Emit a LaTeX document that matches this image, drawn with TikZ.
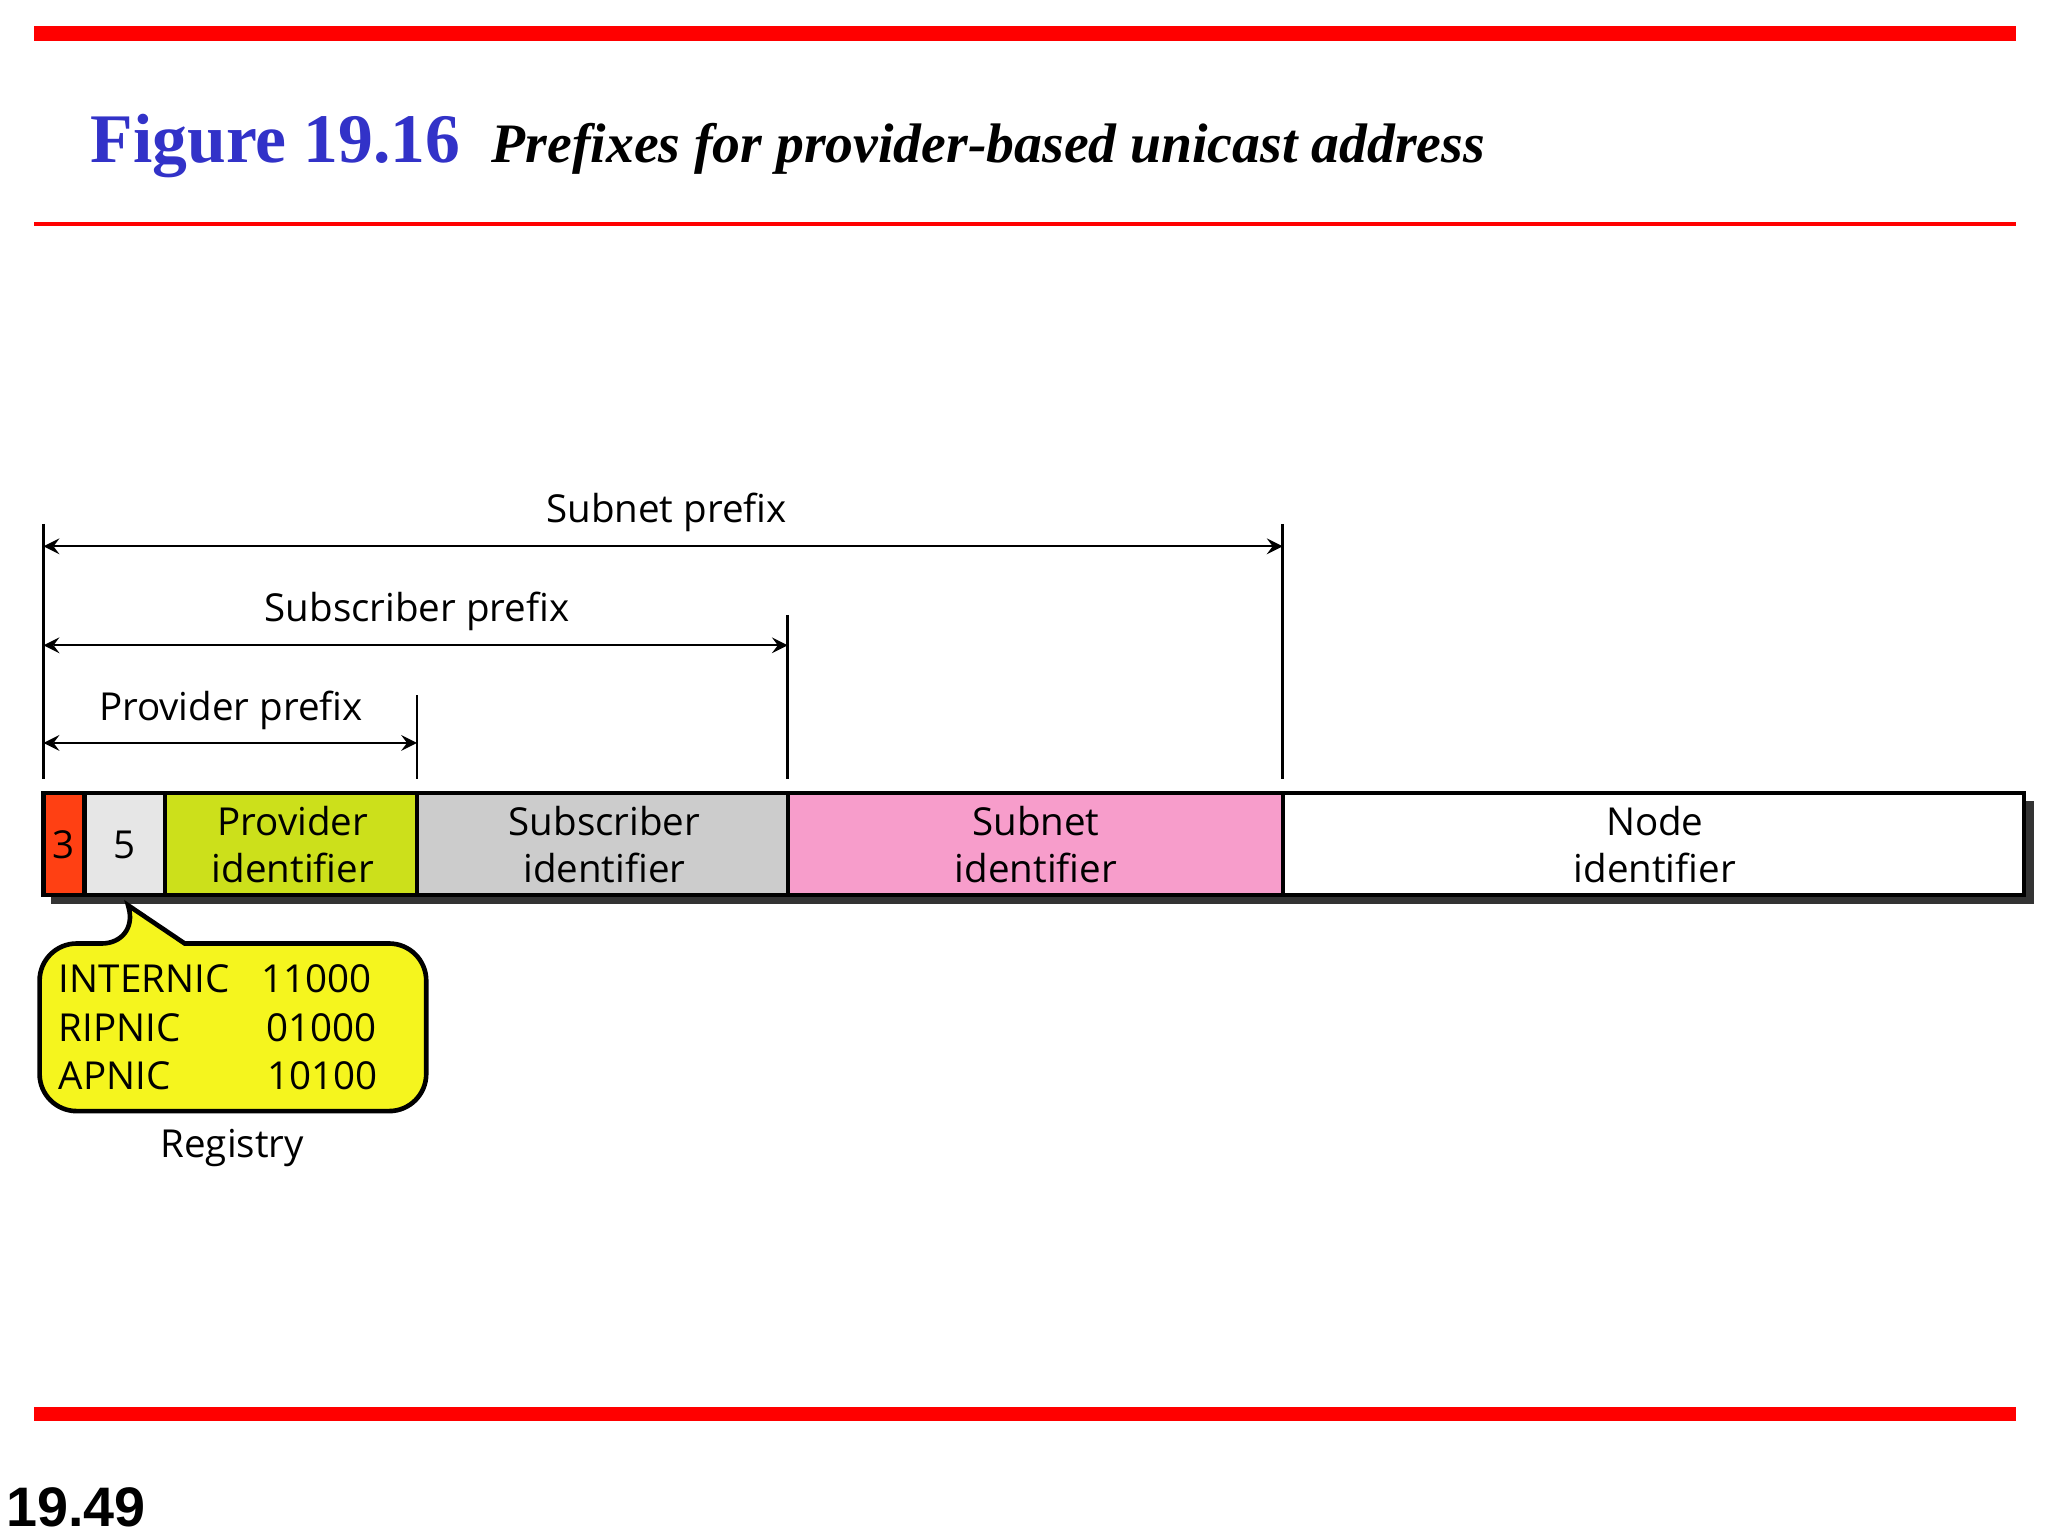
\documentclass[tikz,border=0pt]{standalone}
\usepackage{fontspec}
\setmainfont{Liberation Serif}
\setsansfont{Open Sans}
\newfontfamily\numfont{Liberation Sans}
\begin{document}
\begin{tikzpicture}[x=0.01cm,y=-0.01cm,
  lab/.style={font=\sffamily\fontsize{8.3}{10}\selectfont, inner sep=0pt},
  seg/.style={draw=black, line width=0.9pt},
  dim/.style={line width=0.5pt, <->, >=stealth},
  tick/.style={line width=0.6pt}]
\useasboundingbox (0,0) rectangle (1552,1164);
\definecolor{redl}{RGB}{255,0,0}
\definecolor{figblue}{RGB}{50,50,200}
% red rules
\fill[redl] (26,20) rectangle (1528,31);
\fill[redl] (26,168) rectangle (1528,171);
\fill[redl] (26,1066) rectangle (1528,1077);
\node[anchor=base west, inner sep=0pt, text=figblue, font=\bfseries\fontsize{15}{18}\selectfont] (fig) at (68,123) {Figure 19.16};
\node[anchor=base west, inner sep=0pt, font=\bfseries\itshape\fontsize{12}{14}\selectfont] (ttl) at (372,123) {Prefixes for provider-based unicast address};
\node[anchor=base west, inner sep=0pt, font=\numfont\bfseries\fontsize{12}{14}\selectfont] (pg) at (4,1157) {19.49};
% shadow
\fill[black!80] (39,607) rectangle (1541,685);
% segments
\fill[white] (33,601) rectangle (1534,678);
\draw[seg, fill={rgb,255:red,255;green,64;blue,19}] (33,601) rectangle (64,678);
\draw[seg, fill={rgb,255:red,230;green,230;blue,230}] (64,601) rectangle (125,678);
\draw[seg, fill={rgb,255:red,204;green,224;blue,27}] (125,601) rectangle (316,678);
\draw[seg, fill={rgb,255:red,204;green,204;blue,204}] (316,601) rectangle (597,678);
\draw[seg, fill={rgb,255:red,247;green,157;blue,203}] (597,601) rectangle (972,678);
\draw[seg, fill=white] (972,601) rectangle (1534,678);
\node[lab] (s3) at (48.5,640) {3};
\node[lab] (s5) at (94.5,640) {5};
\node[lab, align=center] (sp) at (222,640) {Provider\\identifier};
\node[lab, align=center] (ss) at (458,640) {Subscriber\\identifier};
\node[lab, align=center] (sn) at (785,640) {Subnet\\identifier};
\node[lab, align=center] (nd) at (1254,640) {Node\\identifier};
% ticks
\coordinate (a0) at (33,397); \coordinate (a0b) at (33,590);
\coordinate (a1) at (316,527); \coordinate (a1b) at (316,590);
\coordinate (a2) at (597,466); \coordinate (a2b) at (597,590);
\coordinate (a3) at (972,397); \coordinate (a3b) at (972,590);
\draw[tick] (a0)--(a0b); \draw[tick] (a1)--(a1b); \draw[tick] (a2)--(a2b); \draw[tick] (a3)--(a3b);
\coordinate (l1) at (33,414); \coordinate (r1) at (972,414);
\coordinate (l2) at (33,489); \coordinate (r2) at (597,489);
\coordinate (l3) at (33,563); \coordinate (r3) at (316,563);
\draw[dim] (l1)--(r1); \draw[dim] (l2)--(r2); \draw[dim] (l3)--(r3);
\node[lab] (t1) at (505,388) {Subnet prefix};
\node[lab] (t2) at (316,463) {Subscriber prefix};
\node[lab] (t3) at (175,538) {Provider prefix};
% callout
\draw[line width=1pt, fill={rgb,255:red,245;green,245;blue,30}, rounded corners=8]
  (30,715) -- (105,715) [sharp corners]-- (97,686) -- (140,715) [rounded corners=8]-- (323,715) -- (323,842) -- (30,842) -- cycle;
\node[lab, anchor=base west] (r1n) at (44,752) {INTERNIC};
\node[lab, anchor=base west] (r2n) at (44,789) {RIPNIC};
\node[lab, anchor=base west] (r3n) at (44,826) {APNIC};
\node[lab, anchor=base east] (r1v) at (282,752) {11000};
\node[lab, anchor=base east] (r2v) at (286,789) {01000};
\node[lab, anchor=base east] (r3v) at (287,826) {10100};
\node[lab] (reg) at (176,870) {Registry};
\end{tikzpicture}
\end{document}
